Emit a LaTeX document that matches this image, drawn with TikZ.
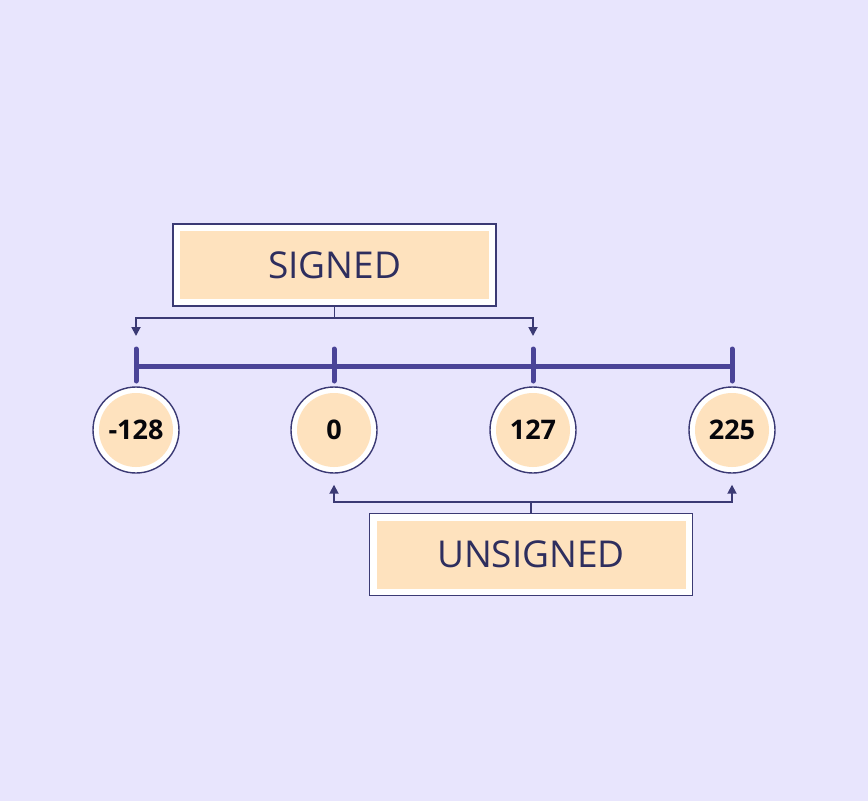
\documentclass[tikz,border=0pt]{standalone}
\usepackage{fontspec}
\setmainfont{Open Sans}
\usetikzlibrary{arrows.meta}
\definecolor{bg}{HTML}{E8E5FD}
\definecolor{peach}{HTML}{FEE2BE}
\definecolor{navy}{HTML}{3B3A74}
\definecolor{linec}{HTML}{4A4497}
\definecolor{txt}{HTML}{2E2E5E}
\tikzset{
  labelbox/.style={draw=navy, line width=1.6pt, fill=white, minimum width=323pt, minimum height=82pt, inner sep=0pt,
    path picture={\fill[peach] ([shift={(7pt,7pt)}]path picture bounding box.south west) rectangle ([shift={(-7pt,-7pt)}]path picture bounding box.north east);},
    font=\fontsize{37pt}{42pt}\selectfont, text=txt},
  numcirc/.style={circle, draw=navy, line width=1.4pt, fill=white, minimum size=86pt, inner sep=0pt,
    path picture={\fill[peach] (path picture bounding box.center) circle (37pt);},
    font=\bfseries\fontsize{27pt}{30pt}\selectfont, text=black!90!navy},
  conn/.style={draw=navy, line width=1.8pt},
  arr/.style={conn, -{Triangle[length=9pt,width=9pt]}},
  axis/.style={draw=linec, line width=5pt},
  tick/.style={draw=linec, line width=5pt, line cap=round}
}
\begin{document}
\begin{tikzpicture}[x=1pt,y=-1pt]
\fill[bg] (0,0) rectangle (868,801);
\useasboundingbox (0,0) rectangle (868,801);
\node[labelbox] (signed) at (334.5,265) {SIGNED};
\node[labelbox] (unsigned) at (531,554.5) {UNSIGNED};
\foreach \n/\x/\t in {a/136/-128,b/334/0,c/533/127,d/732/225}{
  \coordinate (top\n) at (\x,349);
  \coordinate (bot\n) at (\x,381);
  \node[numcirc] (c\n) at (\x,430) {\t};
}
\draw[axis] (topa |- 0,366) -- (topd |- 0,366);
\foreach \n in {a,b,c,d}{\draw[tick] (top\n) -- (bot\n);}
\coordinate (sj) at (334.5,318);
\coordinate (uj) at (531,502);
\draw[conn] (signed.south) -- (sj);
\draw[arr] (sj) -| ([yshift=13pt]topa);
\draw[arr] (sj) -| ([yshift=13pt]topc);
\draw[conn] (unsigned.north) -- (uj);
\draw[arr] (uj) -| ([yshift=-11pt]cb.south);
\draw[arr] (uj) -| ([yshift=-11pt]cd.south);
\end{tikzpicture}
\end{document}
